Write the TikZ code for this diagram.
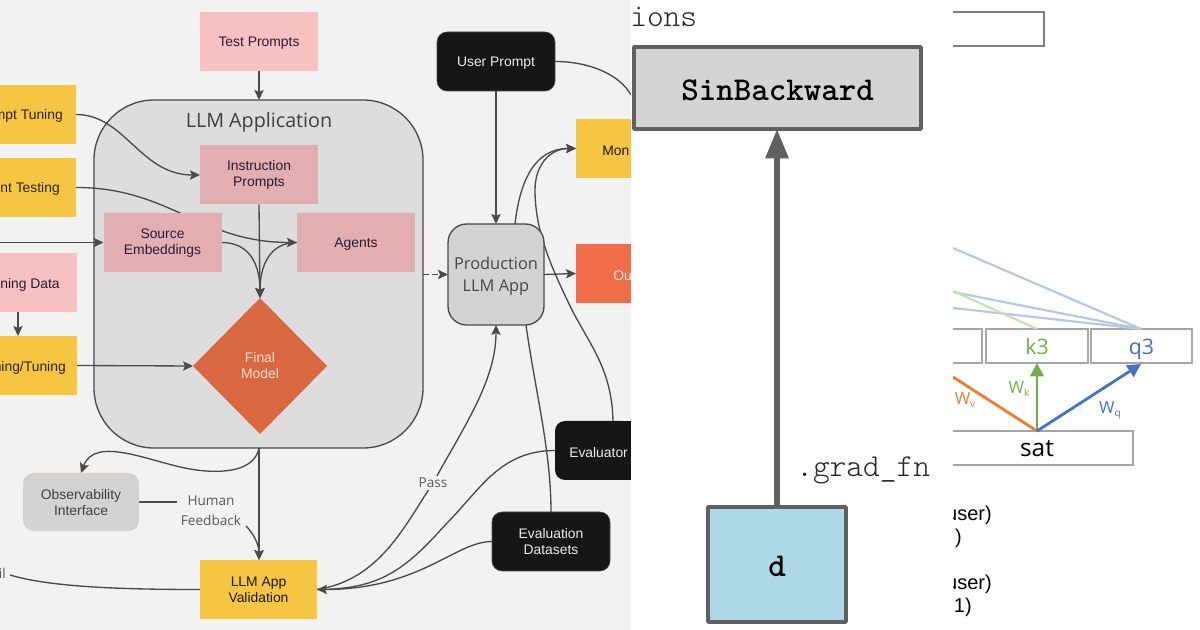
\documentclass[tikz,border=0pt]{standalone}
\usepackage{fontspec}
\setmainfont{Liberation Sans}
\newfontfamily\osans{Open Sans}
\usetikzlibrary{arrows.meta}
\pgfdeclarelayer{bgl}
\pgfdeclarelayer{edgel}
\pgfsetlayers{bgl,edgel,main}
\definecolor{panel}{HTML}{F2F2F2}
\definecolor{pinkA}{HTML}{F7C1C1}
\definecolor{pinkB}{HTML}{E3AEB0}
\definecolor{yel}{HTML}{F6C643}
\definecolor{oraD}{HTML}{D9673F}
\definecolor{oraO}{HTML}{EF6E47}
\definecolor{grayN}{HTML}{D5D2D2}
\definecolor{appF}{HTML}{DDDDDD}
\definecolor{ink}{HTML}{4A4A4A}
\definecolor{dark}{HTML}{161616}
\definecolor{plum}{HTML}{2A1A3A}
\definecolor{mono}{HTML}{606060}
\definecolor{lblue}{HTML}{ADD8E6}
\definecolor{bluA}{HTML}{4472C4}
\definecolor{bluL}{HTML}{B4C7E7}
\definecolor{grnA}{HTML}{70AD47}
\definecolor{grnL}{HTML}{C5E0B4}
\definecolor{oraA}{HTML}{ED7D31}
\definecolor{cell}{HTML}{A6A6A6}
\tikzset{
  wh/.style 2 args={minimum width=#1*0.75pt,minimum height=#2*0.75pt,inner sep=0pt,outer sep=0pt},
  lift/.style={execute at begin node={\rule{0pt}{#1pt}}},
  sm/.style={font=\fontsize{10.4}{12}\selectfont,align=center,lift=10},
  sm2/.style={font=\fontsize{10.4}{12}\selectfont,align=center,inner sep=0pt},
  hum/.style={font=\osans\fontsize{10.2}{15}\selectfont,align=center,text=black!65},
  rbox/.style={sm,text=plum},
  dbox/.style={sm,fill=dark,text=white!92!black,rounded corners=7.5pt,draw=ink},
  edge/.style={draw=ink,line width=1pt},
  arr/.style={edge,-{Stealth[length=7.5pt,width=7pt,inset=1.5pt]}},
  cellb/.style={draw=cell,line width=1.3pt,fill=white},
  monob/.style={draw=mono,line width=2.6pt,line join=round},
  wlab/.style={font=\osans\fontsize{12.5}{13}\selectfont},
  cellt/.style={font=\osans\fontsize{16}{17}\selectfont,text height=13.5pt,text depth=0pt},
  thin3/.style={line width=2.1pt},
  tip3/.style={-{Triangle[length=10pt,width=10pt]}},
  lightl/.style={line width=1.6pt},
  usr/.style={anchor=east,inner sep=0pt,font=\fontsize{15}{16}\selectfont},
  lightmono/.style={font=\ttfamily\fontseries{l}\selectfont\fontsize{#1}{#1}\selectfont,anchor=west,inner sep=0pt,text=black!85},
  boldmono/.style={font=\ttfamily\bfseries\fontsize{25}{27}\selectfont,lift=18.5},
}
\newcommand{\subl}[1]{\raisebox{-2.5pt}{\fontsize{7.5}{8}\selectfont #1}}
\begin{document}
\begin{tikzpicture}[x=0.75pt,y=-0.75pt]
\useasboundingbox (0,0) rectangle (1200,630);
\begin{pgfonlayer}{bgl}
  \fill[panel] (0,0) rectangle (631,630);
  \node[wh={329}{348},fill=appF,draw=ink,line width=1pt,rounded corners=45pt] (app) at (258.5,274) {};
\end{pgfonlayer}

\node[font=\osans\fontsize{14.8}{16}\selectfont,text=black!75] (apptitle) at (259,122) {LLM Application};
\node[wh={118}{59},rbox,fill=pinkA] (tp) at (259,41.5) {Test Prompts};
\node[wh={118}{59},fill=pinkB] (ip) at (259,175) {};
\node[sm2,text=plum] (ipt) at (259,175) {Instruction\\Prompts};
\node[wh={118}{59},fill=pinkB] (se) at (162.5,242.5) {};
\node[sm2,text=plum] (set) at (162.5,243) {Source\\Embeddings};
\node[wh={118}{59},rbox,fill=pinkB] (ag) at (356,242.5) {Agents};
\node[wh={76}{59},anchor=east,fill=yel] (pt) at (76,114.5) {};
\node[sm,anchor=east,inner sep=0pt,text=black!85] (ptl) at (63,114) {mpt Tuning};
\node[wh={76}{59},anchor=east,fill=yel] (at) at (76,187.5) {};
\node[sm,anchor=east,inner sep=0pt,text=black!85] (atl) at (60,187) {nt Testing};
\node[wh={77}{59},anchor=east,fill=pinkA] (td) at (77,282.5) {};
\node[sm,anchor=east,inner sep=0pt,text=plum] (tdl) at (60,283) {ning Data};
\node[wh={77}{59},anchor=east,fill=yel] (tt) at (77,365.5) {};
\node[sm,anchor=east,inner sep=0pt,text=black!85] (ttl) at (66,366) {ning/Tuning};
\node[wh={134}{136}] (fm) at (260,366) {};
\node[sm2,text=white!80!oraD] (fmt) at (260,366) {Final\\Model};
\node[wh={116}{58},fill=grayN,rounded corners=8pt] (ob) at (81,502) {};
\node[sm2,text=black!75] (obt) at (81,503) {Observability\\Interface};
\node[hum] (hf) at (211,510.5) {Human\\Feedback};
\node[wh={117}{59},fill=yel] (va) at (258.5,589.5) {};
\node[sm2,text=black!90] (vat2) at (258.5,589.5) {LLM App\\Validation};
\node[hum,anchor=east,inner sep=0pt] (fl) at (6,573) {il};
\node[wh={118}{59},dbox] (up) at (496,61.5) {User Prompt};
\node[wh={55}{59},anchor=west,fill=yel] (mo) at (576,148.5) {};
\node[sm,anchor=west,inner sep=0pt,text=black!90] (mol) at (602,149) {Mon};
\node[wh={55}{59},anchor=west,fill=oraO] (ou) at (576,273.5) {};
\node[sm,anchor=west,inner sep=0pt,text=white!85!oraO] (oul) at (613,274) {Ou};
\node[wh={96}{101},draw=ink,line width=1pt,fill=grayN,rounded corners=14pt] (pr) at (496,274.5) {};
\node[font=\osans\fontsize{12.3}{16.5}\selectfont,align=center,text=black!72,inner sep=0pt] (prt2) at (496,276) {Production\\LLM App};
\node[wh={76}{59},anchor=west,fill=dark,rounded corners=7.5pt] (ev) at (555,450.5) {};
\fill[dark] (600,421) rectangle (631,480);
\node[sm,anchor=west,inner sep=0pt,text=white!92!black] (evl) at (569,451) {Evaluator};
\node[wh={118}{59},fill=dark,rounded corners=7.5pt,draw=ink] (ed) at (551,541.5) {};
\node[sm2,text=white!92!black] (edt) at (551,541.5) {Evaluation\\Datasets};
\node[hum,fill=panel,inner sep=1.5pt] (ps) at (433,483) {Pass};

% free ends
\coordinate (lin) at (0,242.5);
\coordinate (tdx) at (18,0);
\coordinate (hfa) at (177,502);
\coordinate (hfb) at (246,526);
\coordinate (fle) at (10,575);
\coordinate (uo) at (631,95);
\coordinate (apb) at (259,448);
\coordinate (dtop) at (260,298);
\coordinate (dleft) at (193,366);
\coordinate (prb) at (496,325);
\coordinate (prc) at (526,325);
\coordinate (prt) at (515,224);
\coordinate (evt) at (613,421);
\coordinate (vat) at (259,560);

\begin{pgfonlayer}{edgel}
  \fill[oraD] (fm.north) -- (fm.east) -- (fm.south) -- (fm.west) -- cycle;
  \draw[arr] (tp.south) -- (tp.south |- app.north);
  \draw[arr] (pt.east) .. controls (125,114.5) and (140,175) .. (ip.west);
  \draw[arr] (at.east) .. controls (170,187.5) and (200,242.5) .. (ag.west);
  \draw[arr] (lin) -- (se.west);
  \draw[arr] (td.south -| tdx) -- (tt.north -| tdx);
  \draw[arr] (tt.east) -- (dleft);
  \draw[arr] (ip.south) -- (dtop);
  \draw[arr] (se.east) .. controls (250,242.5) and (260,265) .. (dtop);
  \draw[arr] (ag.west) .. controls (270,242.5) and (260,265) .. (dtop);
  \draw[arr] (apb) -- (vat);
  \draw[arr] (apb) .. controls (255,470) and (225,475) .. (190,469) .. controls (150,462) and (95,435) .. (ob.north);
  \draw[edge] (ob.east) -- (hfa);
  \draw[arr] (hfb) .. controls (254,534) and (259,545) .. (vat);
  \draw[edge] (va.west) .. controls (120,589.5) and (50,587) .. (fle);
  \draw[arr] (up.south) -- (pr.north);
  \draw[edge] (up.east) .. controls (590,61.5) and (620,75) .. (uo);
  \draw[arr,dash pattern=on 4.5pt off 2.5pt] (app.east |- pr.west) -- (pr.west);
  \draw[arr] (pr.east) -- (ou.west);
  \draw[arr] (prt) .. controls (520,180) and (535,148.5) .. (mo.west);
  \draw[arr] (evt) .. controls (612,370) and (590,345) .. (572,310) .. controls (550,265) and (535,230) .. (535,190) .. controls (535,165) and (550,148.5) .. (mo.west);
  \draw[edge] (ev.west) .. controls (500,450.5) and (480,490) .. (447,523) .. controls (405,570) and (380,589.5) .. (va.east);
  \draw[arr] (ed.west) .. controls (455,541.5) and (420,589.5) .. (va.east);
  \draw[arr] (va.east) .. controls (380,580) and (405,525) .. (ps.center) .. controls (465,425) and (496,380) .. (prb);
  \draw[edge] (ed.north) .. controls (551,450) and (535,390) .. (prc);
\end{pgfonlayer}

% middle panel
\fill[white] (631,0) rectangle (1200,630);
\node[lightmono=23.9] (ions) at (630,17) {ions};
\node[wh={287}{82},monob,fill=black!17,boldmono] (sb) at (777.5,88) {SinBackward};
\node[wh={138}{115},monob,fill=lblue,boldmono] (dn) at (777,564.5) {d};
\draw[draw=mono,line width=4.5pt,-{Triangle[length=22pt,width=16.5pt]}] (dn.north) -- (dn.north |- sb.south);
\node[lightmono=23.9] (gf) at (796,470) {.grad\_fn};

% right panel
\begin{scope}
  \clip (953,0) rectangle (1200,630);
  \node[wh={144}{34},anchor=east,draw=gray,line width=1.3pt] (tb) at (1044,29) {};
  \node[wh={60}{34},anchor=east,cellb] (vb) at (982,346) {};
  \node[wh={102}{34},cellb,cellt,text=grnA] (k3) at (1037,346) {k3};
  \node[wh={101}{34},cellb,cellt,text=bluA] (q3) at (1141.5,346) {q3};
  \node[wh={200}{34},anchor=east,cellb] (sat) at (1133,448) {};
  \node[font=\osans\fontsize{18.3}{19}\selectfont,inner sep=0pt] (satl) at (1037,449) {sat};
  \coordinate (satt) at (1037,431);
  \coordinate (la) at (953,248);
  \coordinate (lb) at (953,292);
  \coordinate (lc) at (953,308);
  \coordinate (ld) at (953,291);
  \coordinate (le) at (953,377);
  \coordinate (q3b) at (1141,364);
  \coordinate (q3t) at (1141,329);
  \draw[bluL,lightl] (q3t) -- (la);
  \draw[bluL,lightl] (q3t) -- (lb);
  \draw[bluL,lightl] (q3t) -- (lc);
  \draw[grnL,lightl] (k3.north) -- (ld);
  \draw[oraA,thin3] (satt) -- (le);
  \draw[grnA,thin3,tip3] (satt) -- (k3.south);
  \draw[bluA,thin3,tip3] (satt) -- (q3b);
  \node[wlab,text=grnA,inner sep=0pt] (wk) at (1019,389) {W\subl{k}};
  \node[wlab,text=oraA,inner sep=0pt] (wv) at (965,400) {W\subl{v}};
  \node[wlab,text=bluA,inner sep=0pt] (wq) at (1110,410) {W\subl{q}};
  \node[usr] (u1) at (992,515) {user)};
  \node[usr] (u2) at (962,538) {)};
  \node[usr] (u3) at (992,584) {user)};
  \node[usr] (u4) at (972,607) {1)};
\end{scope}
\end{tikzpicture}
\end{document}
